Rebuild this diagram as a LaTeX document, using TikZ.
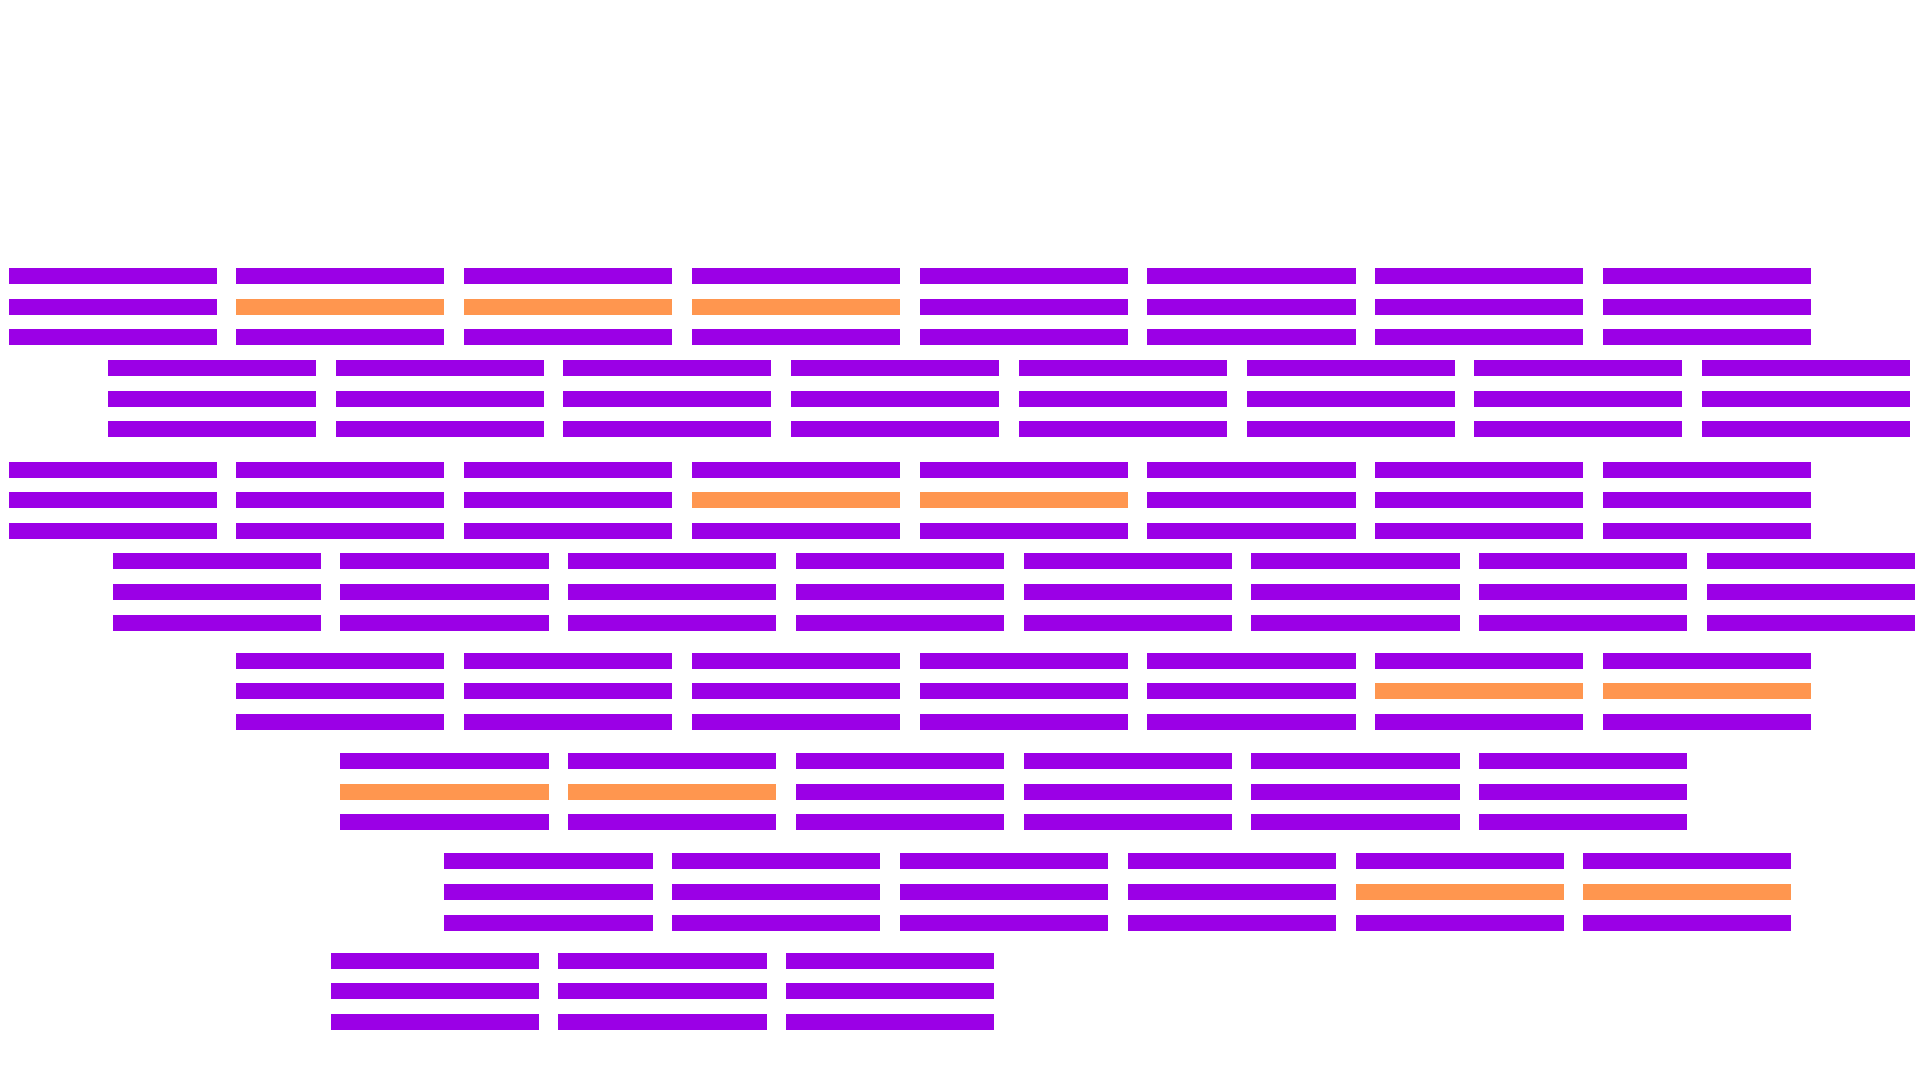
\documentclass[tikz,border=0pt]{standalone}
\definecolor{pur}{HTML}{9B00E6}
\definecolor{org}{HTML}{FF964F}
\begin{document}
\begin{tikzpicture}[x=1pt,y=-1pt,bar/.style={fill=pur},obar/.style={fill=org}]
\useasboundingbox (0,0) rectangle (1568,882);
% group: y top of first row, x start, count, orange list
\def\grp#1#2#3#4{%
  \foreach \r in {0,1,2}{%
    \foreach \k in {0,...,#3}{%
      \pgfmathsetmacro{\xx}{#2+186*\k}%
      \pgfmathsetmacro{\yy}{#1+25*\r}%
      \def\sty{bar}%
      \ifnum\r=1 \foreach \o in {#4}{\ifnum\o=\k \global\def\isor{1}\fi}\fi
      \ifdefined\isor \def\sty{obar}\global\let\isor\undefined\fi
      \path[\sty] (\xx,\yy) rectangle ++(170,13);
    }%
  }%
}
\grp{219}{7}{7}{1,2,3}
\grp{294}{88}{7}{-1}
\grp{377}{7}{7}{3,4}
\grp{452}{92}{7}{-1}
\grp{533}{193}{6}{5,6}
\grp{615}{278}{5}{0,1}
\grp{697}{363}{5}{4,5}
\grp{778}{270}{2}{-1}
\end{tikzpicture}
\end{document}
